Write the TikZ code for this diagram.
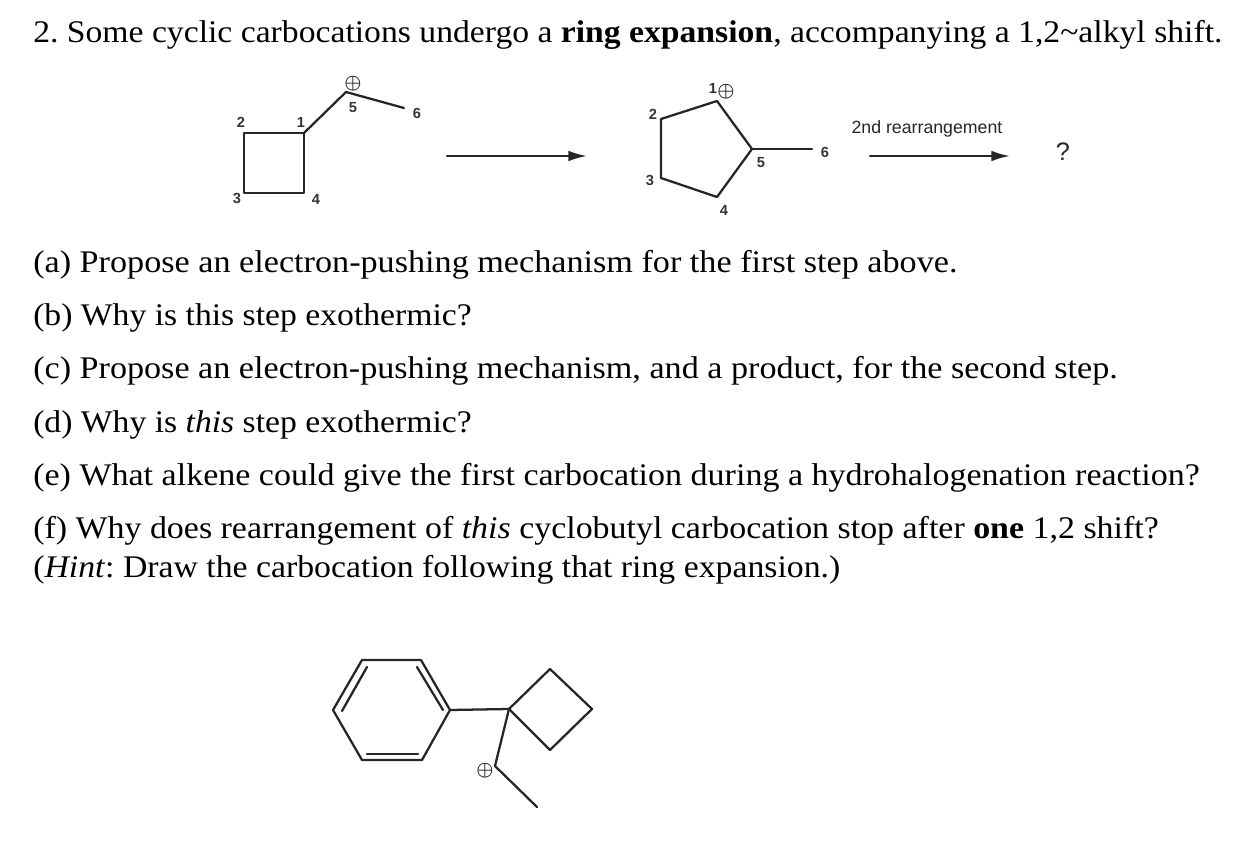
\documentclass[tikz,border=0pt]{standalone}
\usepackage{amsmath, amssymb}
\usepackage{fontspec}
\setmainfont{Liberation Serif}[FakeStretch=1.07]
\newfontfamily\labelfont{Liberation Sans}
\usepackage{xcolor}
\usetikzlibrary{arrows.meta}
\newcommand{\widen}[1]{\addfontfeature{FakeStretch=#1}}
\frenchspacing
\tikzset{
  line/.style={anchor=base west,inner sep=0pt,font=\fontsize{23.6}{28}\selectfont},
  num/.style={inner sep=0pt,font=\labelfont\bfseries\fontsize{11}{12}\selectfont,color=black!80},
  plus/.style={inner sep=0pt,font=\fontsize{14}{16}\selectfont,color=black!85},
  bond/.style={line width=1.7pt,black!85,line cap=round,line join=round},
  rxn/.style={bond,-{Latex[length=14pt,width=8pt]}}
}
\begin{document}
\begin{tikzpicture}[x=0.75pt,y=-0.75pt]
\useasboundingbox (0,0) rectangle (1240,860);
% text
\node[line] (title) at (33,42) {2. Some cyclic carbocations undergo a \textbf{ring expansion}, accompanying a 1,2\textasciitilde alkyl shift.};
\node[line] (qa) at (33,272) {\widen{1.086}(a) Propose an electron-pushing mechanism for the first step above.};
\node[line] (qb) at (33,325) {(b) Why is this step exothermic?};
\node[line] (qc) at (33,378) {\widen{1.085}(c) Propose an electron-pushing mechanism, and a product, for the second step.};
\node[line] (qd) at (33,432) {(d) Why is \textit{this} step exothermic?};
\node[line] (qe) at (33,485) {\widen{1.081}(e) What alkene could give the first carbocation during a hydrohalogenation reaction?};
\node[line] (qf) at (33,538) {\widen{1.078}(f) Why does rearrangement of \textit{this} cyclobutyl carbocation stop after \textbf{one} 1,2 shift?};
\node[line] (qg) at (33,577) {\widen{1.073}(\textit{Hint}: Draw the carbocation following that ring expansion.)};
% cyclobutyl cation
\coordinate (a1) at (304,133);
\coordinate (a2) at (244,133);
\coordinate (a3) at (244,193);
\coordinate (a4) at (304,193);
\coordinate (a5) at (346,92);
\coordinate (a6) at (404,108);
\draw[bond] (a1) -- (a2) -- (a3) -- (a4) -- cycle;
\draw[bond] (a1) -- (a5) -- (a6);
\node[num] (la1) at (301,122) {1};
\node[num] (la2) at (241,122) {2};
\node[num] (la3) at (237,198) {3};
\node[num] (la4) at (316,199) {4};
\node[num] (la5) at (353,108) {5};
\node[num] (la6) at (417,113) {6};
\node[plus] (pa) at (353,84) {$\boldsymbol\oplus$};
\coordinate (r1s) at (447,156);
\coordinate (r1e) at (587,156);
\draw[rxn] (r1s) -- (r1e);
% cyclopentyl cation
\coordinate (b1) at (717,101);
\coordinate (b2) at (661,119);
\coordinate (b3) at (661,178);
\coordinate (b4) at (717,197);
\coordinate (b5) at (752,149);
\coordinate (b6) at (812,149);
\draw[bond] (b1) -- (b2) -- (b3) -- (b4) -- (b5) -- cycle;
\draw[bond] (b5) -- (b6);
\node[num] (lb1) at (713,88) {1};
\node[num] (lb2) at (653,114) {2};
\node[num] (lb3) at (650,180) {3};
\node[num] (lb4) at (724,210) {4};
\node[num] (lb5) at (761,163) {5};
\node[num] (lb6) at (825,152) {6};
\node[plus] (pb) at (726,92) {$\boldsymbol\oplus$};
\node[inner sep=0pt,font=\labelfont\fontsize{13.3}{15}\selectfont,color=black!85] (rlabel) at (927,129) {2nd rearrangement};
\coordinate (r2s) at (870,156);
\coordinate (r2e) at (1010,156);
\draw[rxn] (r2s) -- (r2e);
\node[inner sep=0pt,font=\labelfont\fontsize{19}{21}\selectfont,color=black!85] (qmark) at (1063,152) {?};
% phenyl cyclobutyl cation
\coordinate (c1) at (362,660);
\coordinate (c2) at (421,660);
\coordinate (c3) at (450,710);
\coordinate (c4) at (422,760);
\coordinate (c5) at (362,760);
\coordinate (c6) at (333,710);
\coordinate (d1) at (367,667);
\coordinate (d2) at (342,711);
\coordinate (d3) at (417,667);
\coordinate (d4) at (443,710);
\coordinate (d5) at (367,754);
\coordinate (d6) at (418,754);
\coordinate (e1) at (509,709);
\coordinate (e2) at (550,669);
\coordinate (e3) at (592,709);
\coordinate (e4) at (550,750);
\coordinate (e5) at (495,766);
\coordinate (e6) at (537,807);
\draw[bond] (c1) -- (c2) -- (c3) -- (c4) -- (c5) -- (c6) -- cycle;
\draw[bond] (d1) -- (d2);
\draw[bond] (d3) -- (d4);
\draw[bond] (d5) -- (d6);
\draw[bond] (c3) -- (e1);
\draw[bond] (e1) -- (e2) -- (e3) -- (e4) -- cycle;
\draw[bond] (e1) -- (e5) -- (e6);
\node[plus] (pc) at (485,771) {$\boldsymbol\oplus$};
\end{tikzpicture}
\end{document}
